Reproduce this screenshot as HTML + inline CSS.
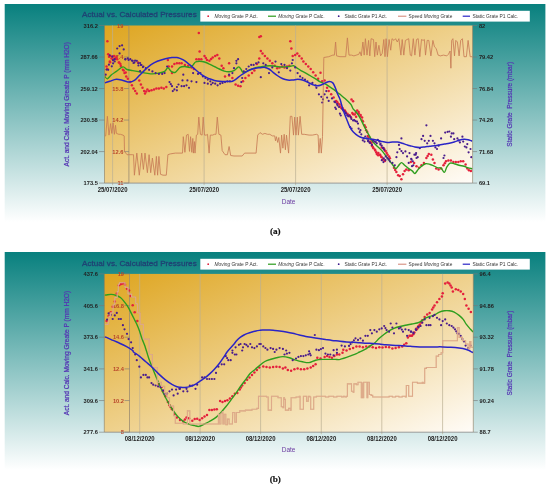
<!DOCTYPE html>
<html><head><meta charset="utf-8"><style>
html,body{margin:0;padding:0;background:#fff;width:550px;height:489px;overflow:hidden}
svg{display:block}
text{font-family:"Liberation Sans",sans-serif}
.title{font-size:7.6px;fill:#1f4274;stroke:#1f4274;stroke-width:0.3}
.leg{font-size:5.1px;fill:#363636}
.it{}
.ax{font-size:5.7px;fill:#222;font-weight:bold}
.dt{font-size:6.3px}
.axr{font-size:5.7px;fill:#b8442a;font-weight:bold}
.xt{font-size:6.5px;fill:#6a3aa0}
.yt{font-size:6.5px;fill:#5434b4;stroke:#5434b4;stroke-width:0.22}
.cap{font-family:"Liberation Serif",serif;font-size:9.2px;font-weight:bold;fill:#111;stroke:#111;stroke-width:0.15}
</style></head>
<body><svg width="550" height="489" viewBox="0 0 550 489">
<defs>
<linearGradient id="teal1" x1="0" y1="0" x2="0" y2="1"><stop offset="0" stop-color="#08807e"/><stop offset="1" stop-color="#ffffff"/></linearGradient>
<linearGradient id="teal2" x1="0" y1="0" x2="0" y2="1"><stop offset="0" stop-color="#08807e"/><stop offset="1" stop-color="#ffffff"/></linearGradient>
<linearGradient id="org1" x1="0" y1="0" x2="1" y2="1"><stop offset="0" stop-color="#dea51f"/><stop offset="1" stop-color="#fffcf8"/></linearGradient>
<linearGradient id="org2" x1="0" y1="0" x2="1" y2="1"><stop offset="0" stop-color="#dea51f"/><stop offset="1" stop-color="#fffcf8"/></linearGradient>
<clipPath id="clip1"><rect x="104.5" y="25.5" width="368.1" height="157.6"/></clipPath>
<clipPath id="clip2"><rect x="104.3" y="273.9" width="369" height="158.3"/></clipPath>
</defs>
<rect x="4.7" y="4" width="540.7" height="218" fill="url(#teal1)"/>
<text x="82" y="17.3" class="title" textLength="114.7" lengthAdjust="spacingAndGlyphs">Actual vs. Calculated Pressures</text>
<rect x="200.3" y="10.8" width="329.5" height="10.8" fill="#fff"/>
<circle cx="208.2" cy="16.200000000000003" r="0.9" fill="#e0203a"/>
<text x="214.5" y="18.000000000000004" class="leg it" textLength="43.3" lengthAdjust="spacingAndGlyphs"><tspan font-style="italic">Moving</tspan> Grate P Act.</text>
<line x1="268" x2="276" y1="16.200000000000003" y2="16.200000000000003" stroke="#2a9a1a" stroke-width="1.2"/>
<text x="278.3" y="18.000000000000004" class="leg it" textLength="46.3" lengthAdjust="spacingAndGlyphs"><tspan font-style="italic">Moving</tspan> Grate P Calc.</text>
<circle cx="338.7" cy="16.200000000000003" r="0.9" fill="#3a1a8a"/>
<text x="344.5" y="18.000000000000004" class="leg" textLength="42.5" lengthAdjust="spacingAndGlyphs">Static Grate P1 Act.</text>
<line x1="398" x2="406.4" y1="16.200000000000003" y2="16.200000000000003" stroke="#d08070" stroke-width="1"/>
<text x="408.6" y="18.000000000000004" class="leg" textLength="43.7" lengthAdjust="spacingAndGlyphs">Speed <tspan font-style="italic">Moving</tspan> Grate</text>
<line x1="462.7" x2="470" y1="16.200000000000003" y2="16.200000000000003" stroke="#2a24c6" stroke-width="1.2"/>
<text x="472.5" y="18.000000000000004" class="leg" textLength="45.5" lengthAdjust="spacingAndGlyphs">Static Grate P1 Calc.</text>
<rect x="104.5" y="25.5" width="368.1" height="157.6" fill="url(#org1)"/>
<line x1="112.6" x2="112.6" y1="25.5" y2="185.1" stroke="#bcb094" stroke-width="0.7"/>
<line x1="204.1" x2="204.1" y1="25.5" y2="185.1" stroke="#bcb094" stroke-width="0.7"/>
<line x1="295.6" x2="295.6" y1="25.5" y2="185.1" stroke="#bcb094" stroke-width="0.7"/>
<line x1="387.1" x2="387.1" y1="25.5" y2="185.1" stroke="#bcb094" stroke-width="0.7"/>
<line x1="128.9" x2="128.9" y1="25.5" y2="183.1" stroke="#9c8c70" stroke-width="0.8"/>
<text x="97.8" y="27.5" class="ax" text-anchor="end">316.2</text>
<line x1="99" x2="104.5" y1="25.5" y2="25.5" stroke="#777" stroke-width="0.6"/>
<text x="97.8" y="59.019999999999996" class="ax" text-anchor="end">287.66</text>
<line x1="99" x2="104.5" y1="57.019999999999996" y2="57.019999999999996" stroke="#777" stroke-width="0.6"/>
<text x="97.8" y="90.53999999999999" class="ax" text-anchor="end">259.12</text>
<line x1="99" x2="104.5" y1="88.53999999999999" y2="88.53999999999999" stroke="#777" stroke-width="0.6"/>
<text x="97.8" y="122.05999999999999" class="ax" text-anchor="end">230.58</text>
<line x1="99" x2="104.5" y1="120.05999999999999" y2="120.05999999999999" stroke="#777" stroke-width="0.6"/>
<text x="97.8" y="153.57999999999998" class="ax" text-anchor="end">202.04</text>
<line x1="99" x2="104.5" y1="151.57999999999998" y2="151.57999999999998" stroke="#777" stroke-width="0.6"/>
<text x="97.8" y="185.1" class="ax" text-anchor="end">173.5</text>
<line x1="99" x2="104.5" y1="183.1" y2="183.1" stroke="#777" stroke-width="0.6"/>
<text x="123.4" y="27.5" class="axr" text-anchor="end">19</text>
<line x1="123.9" x2="128.9" y1="25.5" y2="25.5" stroke="#777" stroke-width="0.6"/>
<text x="123.4" y="59.019999999999996" class="axr" text-anchor="end">17.4</text>
<line x1="123.9" x2="128.9" y1="57.019999999999996" y2="57.019999999999996" stroke="#777" stroke-width="0.6"/>
<text x="123.4" y="90.53999999999999" class="axr" text-anchor="end">15.8</text>
<line x1="123.9" x2="128.9" y1="88.53999999999999" y2="88.53999999999999" stroke="#777" stroke-width="0.6"/>
<text x="123.4" y="122.05999999999999" class="axr" text-anchor="end">14.2</text>
<line x1="123.9" x2="128.9" y1="120.05999999999999" y2="120.05999999999999" stroke="#777" stroke-width="0.6"/>
<text x="123.4" y="153.57999999999998" class="axr" text-anchor="end">12.6</text>
<line x1="123.9" x2="128.9" y1="151.57999999999998" y2="151.57999999999998" stroke="#777" stroke-width="0.6"/>
<text x="123.4" y="185.1" class="axr" text-anchor="end">11</text>
<line x1="123.9" x2="128.9" y1="183.1" y2="183.1" stroke="#777" stroke-width="0.6"/>
<text x="478.90000000000003" y="27.5" class="ax">82</text>
<line x1="472.6" x2="477.1" y1="25.5" y2="25.5" stroke="#777" stroke-width="0.6"/>
<text x="478.90000000000003" y="59.019999999999996" class="ax">79.42</text>
<line x1="472.6" x2="477.1" y1="57.019999999999996" y2="57.019999999999996" stroke="#777" stroke-width="0.6"/>
<text x="478.90000000000003" y="90.53999999999999" class="ax">76.84</text>
<line x1="472.6" x2="477.1" y1="88.53999999999999" y2="88.53999999999999" stroke="#777" stroke-width="0.6"/>
<text x="478.90000000000003" y="122.05999999999999" class="ax">74.26</text>
<line x1="472.6" x2="477.1" y1="120.05999999999999" y2="120.05999999999999" stroke="#777" stroke-width="0.6"/>
<text x="478.90000000000003" y="153.57999999999998" class="ax">71.68</text>
<line x1="472.6" x2="477.1" y1="151.57999999999998" y2="151.57999999999998" stroke="#777" stroke-width="0.6"/>
<text x="478.90000000000003" y="185.1" class="ax">69.1</text>
<line x1="472.6" x2="477.1" y1="183.1" y2="183.1" stroke="#777" stroke-width="0.6"/>
<g clip-path="url(#clip1)">
<g fill="#e4203c"><circle cx="107.4" cy="41.2" r="1.25"/><circle cx="108.2" cy="54.3" r="1.25"/><circle cx="109.0" cy="56.7" r="1.25"/><circle cx="109.8" cy="61.6" r="1.25"/><circle cx="106.5" cy="66.5" r="1.25"/><circle cx="107.4" cy="69.0" r="1.25"/><circle cx="111.5" cy="58.4" r="1.25"/><circle cx="113.1" cy="60.0" r="1.25"/><circle cx="115.5" cy="58.4" r="1.25"/><circle cx="117.2" cy="59.2" r="1.25"/><circle cx="118.8" cy="62.4" r="1.25"/><circle cx="120.4" cy="64.1" r="1.25"/><circle cx="122.9" cy="69.8" r="1.25"/><circle cx="124.5" cy="73.1" r="1.25"/><circle cx="126.2" cy="76.4" r="1.25"/><circle cx="127.8" cy="78.8" r="1.25"/><circle cx="130.3" cy="82.1" r="1.25"/><circle cx="131.9" cy="85.3" r="1.25"/><circle cx="133.5" cy="88.6" r="1.25"/><circle cx="135.2" cy="91.1" r="1.25"/><circle cx="136.8" cy="93.5" r="1.25"/><circle cx="139.3" cy="80.4" r="1.25"/><circle cx="140.9" cy="84.5" r="1.25"/><circle cx="142.5" cy="87.8" r="1.25"/><circle cx="144.2" cy="91.1" r="1.25"/><circle cx="145.0" cy="93.5" r="1.25"/><circle cx="146.2" cy="91.5" r="1.25"/><circle cx="147.4" cy="89.4" r="1.25"/><circle cx="149.1" cy="91.1" r="1.25"/><circle cx="151.5" cy="90.3" r="1.25"/><circle cx="154.0" cy="89.4" r="1.25"/><circle cx="156.4" cy="88.6" r="1.25"/><circle cx="158.9" cy="88.6" r="1.25"/><circle cx="161.4" cy="87.8" r="1.25"/><circle cx="163.8" cy="88.6" r="1.25"/><circle cx="166.3" cy="87.0" r="1.25"/><circle cx="167.9" cy="60.0" r="1.25"/><circle cx="168.7" cy="66.5" r="1.25"/><circle cx="172.0" cy="66.5" r="1.25"/><circle cx="174.4" cy="64.1" r="1.25"/><circle cx="176.9" cy="63.3" r="1.25"/><circle cx="179.3" cy="63.3" r="1.25"/><circle cx="172.0" cy="73.1" r="1.25"/><circle cx="198.8" cy="33.0" r="1.25"/><circle cx="199.6" cy="51.5" r="1.25"/><circle cx="181.6" cy="63.3" r="1.25"/><circle cx="184.9" cy="64.9" r="1.25"/><circle cx="188.2" cy="65.7" r="1.25"/><circle cx="191.5" cy="67.4" r="1.25"/><circle cx="193.9" cy="69.0" r="1.25"/><circle cx="196.4" cy="59.2" r="1.25"/><circle cx="198.9" cy="59.2" r="1.25"/><circle cx="201.3" cy="59.2" r="1.25"/><circle cx="204.5" cy="55.9" r="1.25"/><circle cx="205.8" cy="58.0" r="1.25"/><circle cx="207.0" cy="60.0" r="1.25"/><circle cx="209.4" cy="60.8" r="1.25"/><circle cx="211.1" cy="59.1" r="1.25"/><circle cx="212.7" cy="57.5" r="1.25"/><circle cx="215.2" cy="55.9" r="1.25"/><circle cx="217.3" cy="55.1" r="1.25"/><circle cx="219.3" cy="58.4" r="1.25"/><circle cx="221.7" cy="65.7" r="1.25"/><circle cx="223.4" cy="68.2" r="1.25"/><circle cx="229.1" cy="63.3" r="1.25"/><circle cx="225.0" cy="76.4" r="1.25"/><circle cx="229.1" cy="75.5" r="1.25"/><circle cx="232.4" cy="78.0" r="1.25"/><circle cx="235.6" cy="84.5" r="1.25"/><circle cx="238.1" cy="85.8" r="1.25"/><circle cx="240.5" cy="86.2" r="1.25"/><circle cx="243.0" cy="81.3" r="1.25"/><circle cx="245.4" cy="78.0" r="1.25"/><circle cx="248.7" cy="75.5" r="1.25"/><circle cx="252.0" cy="73.1" r="1.25"/><circle cx="254.4" cy="70.6" r="1.25"/><circle cx="256.9" cy="64.1" r="1.25"/><circle cx="259.3" cy="37.1" r="1.25"/><circle cx="259.3" cy="58.4" r="1.25"/><circle cx="260.8" cy="36.3" r="1.25"/><circle cx="260.8" cy="51.0" r="1.25"/><circle cx="262.5" cy="53.4" r="1.25"/><circle cx="264.9" cy="55.9" r="1.25"/><circle cx="267.4" cy="58.4" r="1.25"/><circle cx="269.8" cy="60.8" r="1.25"/><circle cx="272.3" cy="63.3" r="1.25"/><circle cx="274.7" cy="65.7" r="1.25"/><circle cx="277.2" cy="68.2" r="1.25"/><circle cx="279.6" cy="67.4" r="1.25"/><circle cx="282.1" cy="66.5" r="1.25"/><circle cx="284.5" cy="67.4" r="1.25"/><circle cx="287.0" cy="66.5" r="1.25"/><circle cx="289.4" cy="65.7" r="1.25"/><circle cx="290.3" cy="41.2" r="1.25"/><circle cx="291.4" cy="48.5" r="1.25"/><circle cx="292.7" cy="55.9" r="1.25"/><circle cx="295.2" cy="55.1" r="1.25"/><circle cx="297.3" cy="53.4" r="1.25"/><circle cx="299.3" cy="55.9" r="1.25"/><circle cx="301.7" cy="58.4" r="1.25"/><circle cx="303.4" cy="61.6" r="1.25"/><circle cx="305.8" cy="64.1" r="1.25"/><circle cx="308.3" cy="66.5" r="1.25"/><circle cx="310.7" cy="69.0" r="1.25"/><circle cx="313.2" cy="72.3" r="1.25"/><circle cx="315.6" cy="75.5" r="1.25"/><circle cx="318.1" cy="78.8" r="1.25"/><circle cx="320.5" cy="72.8" r="1.25"/><circle cx="322.2" cy="81.3" r="1.25"/><circle cx="324.6" cy="80.4" r="1.25"/><circle cx="327.1" cy="87.8" r="1.25"/><circle cx="328.7" cy="91.1" r="1.25"/><circle cx="331.2" cy="94.3" r="1.25"/><circle cx="333.6" cy="97.6" r="1.25"/><circle cx="336.1" cy="100.9" r="1.25"/><circle cx="338.0" cy="103.5" r="1.25"/><circle cx="340.0" cy="106.5" r="1.25"/><circle cx="342.5" cy="108.1" r="1.25"/><circle cx="344.9" cy="110.5" r="1.25"/><circle cx="347.4" cy="113.8" r="1.25"/><circle cx="349.8" cy="115.5" r="1.25"/><circle cx="352.3" cy="113.0" r="1.25"/><circle cx="354.7" cy="114.6" r="1.25"/><circle cx="355.9" cy="112.5" r="1.25"/><circle cx="357.2" cy="110.5" r="1.25"/><circle cx="358.8" cy="113.8" r="1.25"/><circle cx="360.4" cy="116.3" r="1.25"/><circle cx="362.1" cy="120.4" r="1.25"/><circle cx="364.5" cy="125.3" r="1.25"/><circle cx="366.2" cy="130.2" r="1.25"/><circle cx="367.8" cy="135.9" r="1.25"/><circle cx="370.3" cy="141.6" r="1.25"/><circle cx="371.9" cy="145.7" r="1.25"/><circle cx="373.5" cy="148.2" r="1.25"/><circle cx="375.2" cy="150.6" r="1.25"/><circle cx="376.8" cy="153.9" r="1.25"/><circle cx="378.4" cy="153.1" r="1.25"/><circle cx="380.1" cy="154.7" r="1.25"/><circle cx="381.7" cy="157.2" r="1.25"/><circle cx="383.4" cy="159.6" r="1.25"/><circle cx="381.7" cy="147.4" r="1.25"/><circle cx="384.2" cy="149.0" r="1.25"/><circle cx="385.4" cy="151.1" r="1.25"/><circle cx="386.6" cy="153.1" r="1.25"/><circle cx="389.1" cy="156.4" r="1.25"/><circle cx="394.0" cy="167.8" r="1.25"/><circle cx="395.2" cy="169.9" r="1.25"/><circle cx="396.4" cy="171.9" r="1.25"/><circle cx="398.1" cy="175.2" r="1.25"/><circle cx="399.7" cy="176.0" r="1.25"/><circle cx="401.4" cy="179.3" r="1.25"/><circle cx="403.0" cy="174.3" r="1.25"/><circle cx="404.6" cy="171.1" r="1.25"/><circle cx="406.3" cy="169.4" r="1.25"/><circle cx="408.7" cy="170.3" r="1.25"/><circle cx="351.5" cy="99.6" r="1.25"/><circle cx="410.8" cy="162.1" r="1.25"/><circle cx="414.1" cy="162.9" r="1.25"/><circle cx="416.5" cy="166.2" r="1.25"/><circle cx="419.0" cy="167.8" r="1.25"/><circle cx="421.5" cy="165.3" r="1.25"/><circle cx="423.9" cy="162.9" r="1.25"/><circle cx="426.4" cy="158.0" r="1.25"/><circle cx="427.6" cy="155.9" r="1.25"/><circle cx="428.8" cy="153.9" r="1.25"/><circle cx="431.3" cy="154.7" r="1.25"/><circle cx="432.9" cy="159.6" r="1.25"/><circle cx="434.5" cy="162.9" r="1.25"/><circle cx="436.2" cy="168.6" r="1.25"/><circle cx="438.6" cy="169.4" r="1.25"/><circle cx="441.1" cy="168.6" r="1.25"/><circle cx="443.5" cy="165.3" r="1.25"/><circle cx="444.8" cy="163.3" r="1.25"/><circle cx="446.0" cy="161.3" r="1.25"/><circle cx="448.4" cy="160.4" r="1.25"/><circle cx="450.9" cy="160.4" r="1.25"/><circle cx="453.4" cy="162.1" r="1.25"/><circle cx="455.8" cy="162.1" r="1.25"/><circle cx="458.3" cy="162.1" r="1.25"/><circle cx="460.7" cy="161.3" r="1.25"/><circle cx="463.2" cy="161.3" r="1.25"/><circle cx="465.6" cy="164.5" r="1.25"/><circle cx="467.3" cy="168.6" r="1.25"/><circle cx="468.9" cy="170.3" r="1.25"/><circle cx="470.9" cy="171.1" r="1.25"/><circle cx="110.1" cy="56.1" r="1.25"/><circle cx="112.2" cy="56.5" r="1.25"/><circle cx="114.2" cy="56.1" r="1.25"/><circle cx="116.3" cy="57.3" r="1.25"/><circle cx="110.1" cy="62.2" r="1.25"/><circle cx="119.2" cy="62.6" r="1.25"/><circle cx="120.8" cy="65.9" r="1.25"/><circle cx="123.7" cy="70.4" r="1.25"/><circle cx="125.7" cy="72.5" r="1.25"/><circle cx="138.0" cy="62.6" r="1.25"/><circle cx="337.2" cy="102.1" r="1.25"/><circle cx="339.5" cy="104.6" r="1.25"/><circle cx="341.3" cy="107.9" r="1.25"/><circle cx="343.4" cy="109.7" r="1.25"/><circle cx="345.7" cy="112.0" r="1.25"/><circle cx="348.3" cy="114.9" r="1.25"/><circle cx="351.0" cy="117.5" r="1.25"/><circle cx="353.2" cy="114.3" r="1.25"/><circle cx="356.1" cy="116.7" r="1.25"/><circle cx="358.6" cy="112.0" r="1.25"/><circle cx="360.6" cy="114.9" r="1.25"/><circle cx="362.1" cy="117.6" r="1.25"/><circle cx="363.0" cy="121.5" r="1.25"/><circle cx="365.6" cy="127.3" r="1.25"/><circle cx="367.2" cy="131.9" r="1.25"/><circle cx="369.2" cy="137.3" r="1.25"/><circle cx="371.6" cy="142.7" r="1.25"/><circle cx="372.8" cy="146.9" r="1.25"/><circle cx="375.0" cy="149.7" r="1.25"/><circle cx="376.3" cy="152.3" r="1.25"/><circle cx="378.1" cy="155.3" r="1.25"/><circle cx="380.0" cy="154.9" r="1.25"/><circle cx="381.1" cy="156.4" r="1.25"/><circle cx="383.0" cy="159.3" r="1.25"/><circle cx="384.9" cy="160.9" r="1.25"/><circle cx="383.5" cy="148.5" r="1.25"/><circle cx="385.4" cy="150.9" r="1.25"/><circle cx="387.6" cy="154.7" r="1.25"/><circle cx="389.9" cy="158.2" r="1.25"/><circle cx="353.1" cy="101.3" r="1.25"/></g>
<path d="M104.9,76.4C105.3,76.8 106.3,79.1 107.4,78.8C108.5,78.5 110.0,75.9 111.5,74.7C113.0,73.5 114.5,72.7 116.4,71.4C118.3,70.1 121.1,67.2 122.9,66.9C124.7,66.6 125.4,68.9 127.0,69.5C128.6,70.1 130.6,70.2 132.7,70.6C134.8,71.0 137.1,71.4 139.3,71.8C141.5,72.2 143.6,72.8 145.8,73.1C148.0,73.4 150.2,73.9 152.4,73.9C154.6,73.9 156.9,73.5 158.9,73.1C160.9,72.7 163.1,72.3 164.6,71.4C166.1,70.5 166.8,67.8 167.9,67.8C169.0,67.8 170.0,70.7 171.2,71.4C172.4,72.2 173.8,73.0 175.3,72.3C176.8,71.6 178.4,68.4 180.0,67.4C181.6,66.4 183.3,66.5 184.9,66.5C186.5,66.5 188.4,67.7 189.8,67.4C191.2,67.1 192.2,65.8 193.1,64.9C194.0,64.0 194.4,62.6 195.5,62.0C196.6,61.4 198.1,61.3 199.6,61.3C201.1,61.3 202.9,61.5 204.5,62.0C206.1,62.5 207.8,63.3 209.4,64.1C211.1,64.8 212.8,65.7 214.4,66.5C216.1,67.3 217.7,68.2 219.3,69.0C220.9,69.8 222.6,70.6 224.2,71.1C225.8,71.6 227.5,71.9 229.1,71.8C230.7,71.7 232.4,71.4 234.0,70.6C235.6,69.8 237.4,67.0 238.6,66.9C239.8,66.8 240.6,68.9 241.3,69.8C242.0,70.7 242.0,72.1 243.0,72.3C244.0,72.5 245.6,71.6 247.1,71.1C248.6,70.5 250.4,69.6 252.0,69.0C253.6,68.4 255.6,67.8 256.9,67.4C258.2,67.1 258.7,67.1 260.0,66.9C261.3,66.7 263.3,66.4 264.9,66.2C266.5,66.0 268.2,65.7 269.8,65.7C271.4,65.7 273.1,66.0 274.7,66.2C276.3,66.4 278.0,66.8 279.6,66.9C281.2,67.0 282.9,67.0 284.5,66.9C286.1,66.8 287.9,66.7 289.4,66.5C290.9,66.3 292.3,65.5 293.5,65.7C294.7,65.9 295.6,67.0 296.8,67.8C298.0,68.6 299.4,69.7 300.9,70.6C302.4,71.5 304.2,72.2 305.8,73.1C307.4,74.0 309.1,75.0 310.7,76.0C312.3,77.0 314.1,77.9 315.6,78.8C317.1,79.7 318.2,80.8 319.7,81.6C321.2,82.4 323.1,82.9 324.6,83.7C326.1,84.5 327.2,85.2 328.7,86.2C330.2,87.2 332.1,88.3 333.6,89.4C335.1,90.5 336.6,91.9 337.7,92.7C338.8,93.5 338.8,93.3 340.0,94.3C341.2,95.3 343.2,96.9 345.0,98.5C346.8,100.1 349.2,102.3 350.6,104.0C352.0,105.7 352.1,107.5 353.1,108.9C354.1,110.3 355.3,110.8 356.4,112.2C357.5,113.6 358.5,115.2 359.6,117.1C360.7,119.0 361.8,121.4 362.9,123.6C364.0,125.8 365.1,128.1 366.2,130.2C367.3,132.2 368.3,134.0 369.4,135.9C370.5,137.8 371.3,139.8 372.7,141.6C374.1,143.4 376.0,144.9 377.6,146.5C379.2,148.1 380.9,149.5 382.5,151.4C384.1,153.3 385.8,155.8 387.4,158.0C389.0,160.2 391.0,162.7 392.4,164.5C393.8,166.3 394.7,168.3 395.6,168.6C396.6,168.9 397.1,167.2 398.1,166.2C399.1,165.2 400.3,162.8 401.4,162.6C402.5,162.4 403.4,164.3 404.6,165.3C405.8,166.3 407.4,167.6 408.7,168.6C410.0,169.6 411.5,170.3 412.5,171.1C413.5,171.9 413.9,173.8 414.9,173.5C415.8,173.2 417.1,170.6 418.2,169.4C419.3,168.2 420.3,167.1 421.5,166.2C422.7,165.2 424.1,164.0 425.5,163.7C426.9,163.4 428.2,163.8 429.6,164.2C431.0,164.5 432.3,165.2 433.7,165.8C435.1,166.4 436.6,167.4 437.8,167.8C439.0,168.2 440.0,167.3 441.1,168.1C442.2,168.9 443.4,172.6 444.4,172.4C445.3,172.2 445.9,168.5 446.8,167.0C447.8,165.5 448.9,163.8 450.1,163.2C451.3,162.6 452.7,163.3 454.2,163.7C455.7,164.0 457.5,164.9 459.1,165.3C460.7,165.7 462.5,165.8 464.0,166.2C465.5,166.6 466.7,167.4 468.1,167.8C469.5,168.2 471.7,168.6 472.4,168.8" fill="none" stroke="#2e9e1e" stroke-width="1.4" stroke-linejoin="round"/>
<g fill="#4a1c8c"><circle cx="117.2" cy="48.5" r="1.1"/><circle cx="119.6" cy="46.1" r="1.1"/><circle cx="122.1" cy="45.3" r="1.1"/><circle cx="123.7" cy="49.4" r="1.1"/><circle cx="112.3" cy="56.7" r="1.1"/><circle cx="114.7" cy="59.2" r="1.1"/><circle cx="113.1" cy="63.3" r="1.1"/><circle cx="108.2" cy="69.8" r="1.1"/><circle cx="105.7" cy="74.7" r="1.1"/><circle cx="119.6" cy="53.4" r="1.1"/><circle cx="125.4" cy="59.2" r="1.1"/><circle cx="127.8" cy="58.4" r="1.1"/><circle cx="130.3" cy="59.2" r="1.1"/><circle cx="132.7" cy="60.8" r="1.1"/><circle cx="134.4" cy="62.4" r="1.1"/><circle cx="136.8" cy="60.8" r="1.1"/><circle cx="138.4" cy="63.3" r="1.1"/><circle cx="140.9" cy="64.9" r="1.1"/><circle cx="143.4" cy="66.5" r="1.1"/><circle cx="145.8" cy="68.2" r="1.1"/><circle cx="149.1" cy="69.8" r="1.1"/><circle cx="152.4" cy="71.4" r="1.1"/><circle cx="155.6" cy="73.1" r="1.1"/><circle cx="158.9" cy="73.9" r="1.1"/><circle cx="162.2" cy="73.9" r="1.1"/><circle cx="164.6" cy="73.1" r="1.1"/><circle cx="167.1" cy="66.5" r="1.1"/><circle cx="169.5" cy="82.1" r="1.1"/><circle cx="170.8" cy="84.2" r="1.1"/><circle cx="172.0" cy="86.2" r="1.1"/><circle cx="174.4" cy="89.4" r="1.1"/><circle cx="176.9" cy="87.0" r="1.1"/><circle cx="178.5" cy="84.5" r="1.1"/><circle cx="172.8" cy="91.1" r="1.1"/><circle cx="176.9" cy="90.3" r="1.1"/><circle cx="182.5" cy="80.4" r="1.1"/><circle cx="184.1" cy="86.2" r="1.1"/><circle cx="186.5" cy="85.3" r="1.1"/><circle cx="189.0" cy="87.8" r="1.1"/><circle cx="191.5" cy="81.3" r="1.1"/><circle cx="183.3" cy="74.7" r="1.1"/><circle cx="187.4" cy="80.4" r="1.1"/><circle cx="181.6" cy="86.2" r="1.1"/><circle cx="193.1" cy="73.1" r="1.1"/><circle cx="196.4" cy="82.1" r="1.1"/><circle cx="198.0" cy="73.9" r="1.1"/><circle cx="200.4" cy="73.1" r="1.1"/><circle cx="202.9" cy="76.4" r="1.1"/><circle cx="205.4" cy="78.0" r="1.1"/><circle cx="207.8" cy="79.6" r="1.1"/><circle cx="210.3" cy="81.3" r="1.1"/><circle cx="212.7" cy="82.9" r="1.1"/><circle cx="215.2" cy="83.7" r="1.1"/><circle cx="217.6" cy="85.3" r="1.1"/><circle cx="220.1" cy="83.7" r="1.1"/><circle cx="222.5" cy="82.9" r="1.1"/><circle cx="225.0" cy="82.1" r="1.1"/><circle cx="227.4" cy="81.3" r="1.1"/><circle cx="229.9" cy="81.3" r="1.1"/><circle cx="204.5" cy="82.9" r="1.1"/><circle cx="207.8" cy="83.7" r="1.1"/><circle cx="211.1" cy="84.5" r="1.1"/><circle cx="229.1" cy="74.7" r="1.1"/><circle cx="232.4" cy="73.1" r="1.1"/><circle cx="234.0" cy="68.2" r="1.1"/><circle cx="236.4" cy="60.8" r="1.1"/><circle cx="238.1" cy="59.2" r="1.1"/><circle cx="236.4" cy="63.3" r="1.1"/><circle cx="242.2" cy="78.0" r="1.1"/><circle cx="243.8" cy="71.4" r="1.1"/><circle cx="246.3" cy="69.0" r="1.1"/><circle cx="248.7" cy="66.5" r="1.1"/><circle cx="251.2" cy="64.9" r="1.1"/><circle cx="253.6" cy="64.9" r="1.1"/><circle cx="256.1" cy="63.3" r="1.1"/><circle cx="258.5" cy="62.4" r="1.1"/><circle cx="241.3" cy="82.1" r="1.1"/><circle cx="260.8" cy="77.2" r="1.1"/><circle cx="263.3" cy="63.3" r="1.1"/><circle cx="265.7" cy="64.9" r="1.1"/><circle cx="269.0" cy="73.1" r="1.1"/><circle cx="272.3" cy="67.4" r="1.1"/><circle cx="275.5" cy="61.6" r="1.1"/><circle cx="278.8" cy="72.3" r="1.1"/><circle cx="281.3" cy="64.1" r="1.1"/><circle cx="284.5" cy="64.9" r="1.1"/><circle cx="287.0" cy="68.2" r="1.1"/><circle cx="290.3" cy="70.6" r="1.1"/><circle cx="291.9" cy="63.3" r="1.1"/><circle cx="292.7" cy="60.0" r="1.1"/><circle cx="295.2" cy="67.4" r="1.1"/><circle cx="297.6" cy="73.1" r="1.1"/><circle cx="300.1" cy="76.4" r="1.1"/><circle cx="302.5" cy="78.0" r="1.1"/><circle cx="305.0" cy="79.6" r="1.1"/><circle cx="307.4" cy="81.3" r="1.1"/><circle cx="309.1" cy="85.3" r="1.1"/><circle cx="312.4" cy="82.9" r="1.1"/><circle cx="315.6" cy="85.3" r="1.1"/><circle cx="316.4" cy="87.8" r="1.1"/><circle cx="318.9" cy="94.3" r="1.1"/><circle cx="321.3" cy="96.8" r="1.1"/><circle cx="323.0" cy="99.3" r="1.1"/><circle cx="324.6" cy="94.3" r="1.1"/><circle cx="326.3" cy="91.1" r="1.1"/><circle cx="327.1" cy="97.6" r="1.1"/><circle cx="328.7" cy="100.9" r="1.1"/><circle cx="332.0" cy="98.4" r="1.1"/><circle cx="334.4" cy="101.7" r="1.1"/><circle cx="322.2" cy="102.5" r="1.1"/><circle cx="340.8" cy="115.5" r="1.1"/><circle cx="343.3" cy="110.5" r="1.1"/><circle cx="345.7" cy="113.0" r="1.1"/><circle cx="348.2" cy="116.3" r="1.1"/><circle cx="350.6" cy="117.1" r="1.1"/><circle cx="353.1" cy="120.4" r="1.1"/><circle cx="355.5" cy="121.2" r="1.1"/><circle cx="358.0" cy="123.6" r="1.1"/><circle cx="351.5" cy="128.5" r="1.1"/><circle cx="360.4" cy="130.2" r="1.1"/><circle cx="361.3" cy="134.3" r="1.1"/><circle cx="364.5" cy="141.6" r="1.1"/><circle cx="367.0" cy="138.4" r="1.1"/><circle cx="368.2" cy="140.4" r="1.1"/><circle cx="369.4" cy="142.4" r="1.1"/><circle cx="371.9" cy="144.9" r="1.1"/><circle cx="374.4" cy="141.6" r="1.1"/><circle cx="376.8" cy="143.3" r="1.1"/><circle cx="379.3" cy="141.6" r="1.1"/><circle cx="380.5" cy="143.6" r="1.1"/><circle cx="381.7" cy="145.7" r="1.1"/><circle cx="382.9" cy="147.8" r="1.1"/><circle cx="384.2" cy="149.8" r="1.1"/><circle cx="383.4" cy="162.1" r="1.1"/><circle cx="385.4" cy="160.1" r="1.1"/><circle cx="387.4" cy="158.0" r="1.1"/><circle cx="389.9" cy="161.3" r="1.1"/><circle cx="392.4" cy="162.9" r="1.1"/><circle cx="394.8" cy="165.3" r="1.1"/><circle cx="401.4" cy="138.4" r="1.1"/><circle cx="398.9" cy="144.9" r="1.1"/><circle cx="397.3" cy="152.3" r="1.1"/><circle cx="396.4" cy="157.2" r="1.1"/><circle cx="399.7" cy="149.0" r="1.1"/><circle cx="401.4" cy="151.1" r="1.1"/><circle cx="403.0" cy="153.1" r="1.1"/><circle cx="405.4" cy="151.4" r="1.1"/><circle cx="407.1" cy="156.4" r="1.1"/><circle cx="409.5" cy="153.1" r="1.1"/><circle cx="411.2" cy="158.8" r="1.1"/><circle cx="412.8" cy="161.3" r="1.1"/><circle cx="414.4" cy="154.7" r="1.1"/><circle cx="416.1" cy="153.1" r="1.1"/><circle cx="417.7" cy="157.2" r="1.1"/><circle cx="412.0" cy="166.2" r="1.1"/><circle cx="408.7" cy="162.9" r="1.1"/><circle cx="426.4" cy="125.3" r="1.1"/><circle cx="423.1" cy="135.9" r="1.1"/><circle cx="421.5" cy="139.2" r="1.1"/><circle cx="424.7" cy="140.8" r="1.1"/><circle cx="427.2" cy="143.3" r="1.1"/><circle cx="428.8" cy="140.8" r="1.1"/><circle cx="430.5" cy="135.9" r="1.1"/><circle cx="432.9" cy="140.8" r="1.1"/><circle cx="434.5" cy="143.3" r="1.1"/><circle cx="435.4" cy="147.4" r="1.1"/><circle cx="437.0" cy="149.0" r="1.1"/><circle cx="438.6" cy="145.7" r="1.1"/><circle cx="441.1" cy="138.4" r="1.1"/><circle cx="445.2" cy="132.6" r="1.1"/><circle cx="447.6" cy="131.8" r="1.1"/><circle cx="449.3" cy="131.5" r="1.1"/><circle cx="451.7" cy="133.4" r="1.1"/><circle cx="453.4" cy="133.4" r="1.1"/><circle cx="450.9" cy="136.7" r="1.1"/><circle cx="454.2" cy="139.2" r="1.1"/><circle cx="457.4" cy="138.4" r="1.1"/><circle cx="458.6" cy="140.4" r="1.1"/><circle cx="459.9" cy="142.4" r="1.1"/><circle cx="462.4" cy="136.7" r="1.1"/><circle cx="463.2" cy="141.6" r="1.1"/><circle cx="464.8" cy="146.5" r="1.1"/><circle cx="466.4" cy="147.4" r="1.1"/><circle cx="467.3" cy="144.1" r="1.1"/><circle cx="468.6" cy="152.3" r="1.1"/><circle cx="470.5" cy="149.0" r="1.1"/><circle cx="471.3" cy="157.2" r="1.1"/><circle cx="444.4" cy="155.5" r="1.1"/><circle cx="443.5" cy="158.0" r="1.1"/><circle cx="415.7" cy="154.7" r="1.1"/><circle cx="416.5" cy="158.0" r="1.1"/><circle cx="411.6" cy="159.6" r="1.1"/><circle cx="413.3" cy="165.3" r="1.1"/><circle cx="419.8" cy="148.2" r="1.1"/><circle cx="337.0" cy="104.0" r="1.1"/><circle cx="339.0" cy="107.0" r="1.1"/><circle cx="336.0" cy="109.0" r="1.1"/><circle cx="109.7" cy="55.3" r="1.1"/><circle cx="113.0" cy="60.2" r="1.1"/><circle cx="114.7" cy="61.4" r="1.1"/><circle cx="108.9" cy="64.7" r="1.1"/><circle cx="111.8" cy="66.3" r="1.1"/><circle cx="106.5" cy="69.6" r="1.1"/><circle cx="125.3" cy="59.4" r="1.1"/><circle cx="128.6" cy="60.0" r="1.1"/><circle cx="131.9" cy="60.6" r="1.1"/><circle cx="133.5" cy="63.0" r="1.1"/><circle cx="135.1" cy="60.6" r="1.1"/><circle cx="138.4" cy="65.5" r="1.1"/><circle cx="140.1" cy="63.0" r="1.1"/><circle cx="141.5" cy="65.0" r="1.1"/><circle cx="142.9" cy="67.1" r="1.1"/><circle cx="140.1" cy="71.2" r="1.1"/><circle cx="339.9" cy="113.7" r="1.1"/><circle cx="342.2" cy="109.0" r="1.1"/><circle cx="344.5" cy="111.3" r="1.1"/><circle cx="345.9" cy="113.3" r="1.1"/><circle cx="347.2" cy="115.2" r="1.1"/><circle cx="349.3" cy="115.7" r="1.1"/><circle cx="351.4" cy="119.0" r="1.1"/><circle cx="354.3" cy="120.2" r="1.1"/><circle cx="357.0" cy="121.7" r="1.1"/><circle cx="350.1" cy="127.1" r="1.1"/><circle cx="358.6" cy="128.6" r="1.1"/><circle cx="359.7" cy="132.2" r="1.1"/><circle cx="362.8" cy="140.3" r="1.1"/><circle cx="364.0" cy="138.4" r="1.1"/><circle cx="365.3" cy="136.5" r="1.1"/><circle cx="368.0" cy="141.2" r="1.1"/><circle cx="370.2" cy="143.2" r="1.1"/><circle cx="373.1" cy="140.5" r="1.1"/><circle cx="375.8" cy="142.1" r="1.1"/><circle cx="377.8" cy="139.9" r="1.1"/><circle cx="380.3" cy="144.6" r="1.1"/><circle cx="383.4" cy="147.8" r="1.1"/><circle cx="381.8" cy="160.2" r="1.1"/><circle cx="383.8" cy="158.3" r="1.1"/><circle cx="385.8" cy="156.4" r="1.1"/><circle cx="388.7" cy="159.4" r="1.1"/><circle cx="335.2" cy="102.3" r="1.1"/><circle cx="337.6" cy="105.5" r="1.1"/><circle cx="335.2" cy="107.6" r="1.1"/></g>
<polyline points="104.9,136.0 105.7,135.9 107.4,116.3 109.0,135.1 110.6,123.6 111.8,133.4 113.1,122.8 114.4,134.3 115.5,125.3 116.4,133.4 118.8,134.3 120.4,134.3 122.9,135.1 124.2,135.9 124.5,151.4 127.0,154.7 132.7,154.7 133.5,154.7 134.4,175.2 136.8,153.1 139.3,175.2 141.7,153.1 143.4,169.4 145.0,153.1 147.4,172.7 149.1,154.7 150.7,172.7 152.4,158.0 154.8,175.2 156.4,156.4 157.6,175.2 158.9,156.4 160.5,174.3 163.0,175.2 166.3,175.2 167.9,154.7 170.3,153.9 175.3,153.1 180.0,153.1 182.5,153.1 183.3,136.7 184.9,152.3 186.5,135.1 188.2,134.3 189.5,151.4 190.6,136.7 191.8,152.3 192.8,138.4 193.4,153.1 194.4,141.6 195.0,153.1 196.4,135.1 197.7,134.3 198.8,117.1 200.4,134.3 202.1,135.1 203.2,117.1 204.5,135.1 206.2,135.1 207.5,134.3 209.1,153.1 210.3,135.1 212.7,135.1 214.4,134.3 216.0,134.3 217.3,117.1 218.9,134.3 220.9,135.1 222.2,150.6 225.0,154.7 227.4,154.7 229.1,146.5 230.7,155.5 234.0,156.0 242.2,156.0 244.6,153.1 256.1,153.1 257.7,135.1 260.0,132.6 262.5,134.3 264.9,133.4 267.4,134.3 269.8,134.3 272.3,135.9 274.7,135.9 275.5,140.8 276.4,136.7 277.7,142.4 278.8,137.5 280.5,153.1 281.6,135.1 282.9,148.2 284.2,134.3 285.4,149.8 286.5,135.1 288.6,153.1 290.3,116.3 291.9,116.3 293.5,135.1 294.7,117.1 296.0,135.1 297.3,117.1 298.4,135.1 300.1,116.3 301.7,134.3 304.2,134.3 309.1,135.1 312.4,135.1 316.4,134.3 318.1,135.1 318.9,153.1 320.2,138.4 321.3,153.1 322.5,136.7 323.8,58.4 323.8,57.5 328.7,56.7 332.8,55.1 334.4,55.1 335.6,42.0 336.6,55.9 340.0,56.7 345.7,56.7 347.4,37.9 349.0,55.1 351.5,55.1 353.9,55.9 356.4,55.1 358.8,54.3 360.0,51.8 361.3,55.9 362.9,42.0 364.2,55.1 365.4,38.7 367.0,55.1 368.6,40.4 369.8,55.9 371.1,38.7 373.5,39.5 374.7,56.7 376.0,42.0 377.3,55.1 378.9,45.3 380.6,55.9 382.2,53.4 383.8,39.5 385.0,56.7 386.1,38.7 387.4,56.7 389.1,39.5 390.7,50.2 392.0,38.7 394.0,40.4 395.6,38.7 397.3,42.0 398.9,38.7 400.9,55.1 402.2,39.5 403.8,55.1 405.4,40.4 407.1,39.5 408.7,38.7 410.3,55.1 411.6,55.9 413.3,38.7 414.9,55.1 416.5,39.5 418.2,38.7 419.8,56.7 421.5,39.5 423.1,40.4 424.4,39.5 425.5,55.1 427.2,40.4 428.8,40.4 430.9,55.9 432.9,40.4 434.5,46.9 436.2,48.5 438.1,55.1 440.3,55.9 443.5,55.1 446.8,55.9 448.4,54.3 450.1,51.0 450.9,68.2 451.7,40.4 452.9,38.7 454.5,55.9 455.8,40.4 457.4,42.0 459.1,55.9 460.7,40.4 462.4,38.7 464.0,56.7 466.4,56.7 468.1,40.4 470.2,56.7 472.4,56.7" fill="none" stroke="#c87c56" stroke-width="0.85" stroke-linejoin="round"/>
<path d="M104.9,82.9C105.7,82.6 107.9,81.9 109.8,81.3C111.7,80.7 114.2,79.4 116.4,79.3C118.6,79.2 120.7,79.9 122.9,80.4C125.1,80.9 127.5,82.1 129.4,82.1C131.3,82.1 132.8,81.5 134.4,80.4C136.1,79.3 137.7,77.1 139.3,75.5C140.9,73.9 142.3,72.4 144.2,70.6C146.1,68.8 148.5,66.5 150.7,64.9C152.9,63.4 154.9,62.3 157.3,61.3C159.8,60.3 163.0,59.3 165.4,58.7C167.8,58.1 170.1,57.7 172.0,57.5C173.9,57.3 175.6,57.4 176.9,57.5C178.2,57.6 178.7,57.9 180.0,58.4C181.3,58.9 183.3,59.7 184.9,60.8C186.5,61.9 188.2,63.5 189.8,64.9C191.4,66.3 193.1,67.6 194.7,69.0C196.3,70.4 198.0,71.9 199.6,73.1C201.2,74.3 202.9,75.5 204.5,76.4C206.1,77.4 207.8,78.1 209.4,78.8C211.1,79.5 212.8,80.0 214.4,80.4C216.1,80.8 217.7,81.1 219.3,81.3C220.9,81.5 222.6,81.5 224.2,81.6C225.8,81.6 227.7,81.6 229.1,81.6C230.5,81.5 231.2,81.8 232.4,81.3C233.6,80.8 235.1,79.8 236.4,78.8C237.8,77.8 239.0,76.6 240.5,75.5C242.0,74.4 243.8,73.2 245.4,72.3C247.0,71.3 248.7,70.5 250.3,69.8C252.0,69.1 253.7,68.5 255.3,68.2C256.9,67.9 258.4,67.9 260.0,67.8C261.6,67.7 263.4,67.2 264.9,67.4C266.4,67.6 267.6,68.2 269.0,69.0C270.4,69.8 271.6,71.1 273.1,72.3C274.6,73.5 276.4,74.9 278.0,76.0C279.6,77.1 281.3,78.1 282.9,78.8C284.5,79.5 286.2,79.9 287.8,80.1C289.4,80.3 291.1,80.1 292.7,80.0C294.3,79.9 296.0,79.3 297.6,79.3C299.2,79.3 300.9,79.5 302.5,80.0C304.1,80.5 305.8,81.3 307.4,82.1C309.0,82.8 310.9,83.9 312.4,84.5C313.9,85.1 315.0,85.7 316.4,85.8C317.8,85.9 319.0,85.8 320.5,85.3C322.0,84.8 323.9,83.5 325.4,82.9C326.9,82.3 328.3,81.6 329.5,81.6C330.7,81.6 331.8,81.9 332.8,82.9C333.8,83.9 334.5,85.9 335.3,87.8C336.1,89.7 336.9,92.4 337.7,94.3C338.5,96.2 339.1,96.6 340.0,99.3C340.9,102.0 342.2,107.3 343.3,110.5C344.4,113.7 345.4,116.0 346.5,118.7C347.6,121.4 348.7,124.7 349.8,126.9C350.9,129.1 351.7,130.3 353.1,131.8C354.5,133.3 356.4,134.9 358.0,135.9C359.6,136.9 361.3,137.5 362.9,138.0C364.5,138.5 366.2,138.5 367.8,138.7C369.4,138.9 371.1,138.9 372.7,139.2C374.3,139.5 376.0,139.9 377.6,140.3C379.2,140.7 380.9,141.2 382.5,141.6C384.1,141.9 385.8,142.3 387.4,142.4C389.0,142.5 390.8,142.1 392.4,142.0C394.0,141.9 395.7,141.8 397.3,142.0C398.9,142.2 400.6,142.8 402.2,143.3C403.8,143.8 405.8,144.5 407.1,144.9C408.4,145.3 408.7,145.4 410.0,145.7C411.3,146.0 413.3,146.6 414.9,146.9C416.5,147.2 418.2,147.4 419.8,147.4C421.4,147.4 423.1,147.1 424.7,146.9C426.3,146.7 428.0,146.4 429.6,146.2C431.2,146.0 432.9,145.9 434.5,145.7C436.1,145.5 437.8,145.2 439.4,144.9C441.0,144.6 442.8,144.4 444.4,144.1C446.0,143.8 447.7,143.7 449.3,143.3C450.9,143.0 452.6,142.5 454.2,142.0C455.8,141.5 457.5,140.8 459.1,140.3C460.7,139.8 462.5,139.3 464.0,139.2C465.5,139.1 466.9,139.4 468.1,139.7C469.3,140.0 470.6,140.6 471.3,140.8C472.0,141.1 472.2,141.1 472.4,141.2" fill="none" stroke="#2a24c6" stroke-width="1.5" stroke-linejoin="round"/>
</g>
<line x1="104.5" x2="104.5" y1="25.5" y2="183.1" stroke="#8a7a60" stroke-width="0.6"/>
<line x1="472.6" x2="472.6" y1="25.5" y2="183.1" stroke="#8a7a60" stroke-width="0.6"/>
<line x1="104.5" x2="472.6" y1="183.1" y2="183.1" stroke="#888" stroke-width="0.8"/>
<text x="112.6" y="192.4" class="ax dt" text-anchor="middle" textLength="29.8" lengthAdjust="spacingAndGlyphs">25/07/2020</text>
<text x="204.1" y="192.4" class="ax dt" text-anchor="middle" textLength="29.8" lengthAdjust="spacingAndGlyphs">25/07/2020</text>
<text x="295.6" y="192.4" class="ax dt" text-anchor="middle" textLength="29.8" lengthAdjust="spacingAndGlyphs">25/07/2020</text>
<text x="387.1" y="192.4" class="ax dt" text-anchor="middle" textLength="29.8" lengthAdjust="spacingAndGlyphs">25/07/2020</text>
<text x="288.6" y="203.6" class="xt" text-anchor="middle">Date</text>
<text transform="translate(68.7,104.3) rotate(-90)" class="yt" text-anchor="middle" textLength="124.4" lengthAdjust="spacingAndGlyphs">Act. and Calc. Moving Greate P (mm H2O)</text>
<text transform="translate(512,104.3) rotate(-90)" class="yt" text-anchor="middle" textLength="84.7" lengthAdjust="spacingAndGlyphs" style="white-space:pre">Static Grate  Pressure (mbar)</text>
<text x="275.3" y="233.9" class="cap" text-anchor="middle">(a)</text>
<rect x="4.7" y="252" width="540.7" height="218" fill="url(#teal2)"/>
<text x="82" y="265.8" class="title" textLength="114.7" lengthAdjust="spacingAndGlyphs">Actual vs. Calculated Pressures</text>
<rect x="200.3" y="258.8" width="329.5" height="10.8" fill="#fff"/>
<circle cx="208.2" cy="264.2" r="0.9" fill="#e0203a"/>
<text x="214.5" y="266.0" class="leg it" textLength="43.3" lengthAdjust="spacingAndGlyphs"><tspan font-style="italic">Moving</tspan> Grate P Act.</text>
<line x1="268" x2="276" y1="264.2" y2="264.2" stroke="#2a9a1a" stroke-width="1.2"/>
<text x="278.3" y="266.0" class="leg it" textLength="46.3" lengthAdjust="spacingAndGlyphs"><tspan font-style="italic">Moving</tspan> Grate P Calc.</text>
<circle cx="338.7" cy="264.2" r="0.9" fill="#3a1a8a"/>
<text x="344.5" y="266.0" class="leg" textLength="42.5" lengthAdjust="spacingAndGlyphs">Static Grate P1 Act.</text>
<line x1="398" x2="406.4" y1="264.2" y2="264.2" stroke="#d08070" stroke-width="1"/>
<text x="408.6" y="266.0" class="leg" textLength="43.7" lengthAdjust="spacingAndGlyphs">Speed <tspan font-style="italic">Moving</tspan> Grate</text>
<line x1="462.7" x2="470" y1="264.2" y2="264.2" stroke="#2a24c6" stroke-width="1.2"/>
<text x="472.5" y="266.0" class="leg" textLength="45.5" lengthAdjust="spacingAndGlyphs">Static Grate P1 Calc.</text>
<rect x="104.3" y="273.9" width="369.0" height="158.3" fill="url(#org2)"/>
<line x1="139.7" x2="139.7" y1="273.9" y2="434.2" stroke="#bcb094" stroke-width="0.7"/>
<line x1="200.1" x2="200.1" y1="273.9" y2="434.2" stroke="#bcb094" stroke-width="0.7"/>
<line x1="260.6" x2="260.6" y1="273.9" y2="434.2" stroke="#bcb094" stroke-width="0.7"/>
<line x1="321.3" x2="321.3" y1="273.9" y2="434.2" stroke="#bcb094" stroke-width="0.7"/>
<line x1="381.8" x2="381.8" y1="273.9" y2="434.2" stroke="#bcb094" stroke-width="0.7"/>
<line x1="442.6" x2="442.6" y1="273.9" y2="434.2" stroke="#bcb094" stroke-width="0.7"/>
<line x1="129.5" x2="129.5" y1="273.9" y2="432.2" stroke="#9c8c70" stroke-width="0.8"/>
<text x="97.8" y="275.9" class="ax" text-anchor="end">437.6</text>
<line x1="99" x2="104.3" y1="273.9" y2="273.9" stroke="#777" stroke-width="0.6"/>
<text x="97.8" y="307.56" class="ax" text-anchor="end">405.6</text>
<line x1="99" x2="104.3" y1="305.56" y2="305.56" stroke="#777" stroke-width="0.6"/>
<text x="97.8" y="339.21999999999997" class="ax" text-anchor="end">373.6</text>
<line x1="99" x2="104.3" y1="337.21999999999997" y2="337.21999999999997" stroke="#777" stroke-width="0.6"/>
<text x="97.8" y="370.88" class="ax" text-anchor="end">341.6</text>
<line x1="99" x2="104.3" y1="368.88" y2="368.88" stroke="#777" stroke-width="0.6"/>
<text x="97.8" y="402.53999999999996" class="ax" text-anchor="end">309.6</text>
<line x1="99" x2="104.3" y1="400.53999999999996" y2="400.53999999999996" stroke="#777" stroke-width="0.6"/>
<text x="97.8" y="434.2" class="ax" text-anchor="end">277.6</text>
<line x1="99" x2="104.3" y1="432.2" y2="432.2" stroke="#777" stroke-width="0.6"/>
<text x="124.0" y="275.9" class="axr" text-anchor="end">19</text>
<line x1="124.5" x2="129.5" y1="273.9" y2="273.9" stroke="#777" stroke-width="0.6"/>
<text x="124.0" y="307.56" class="axr" text-anchor="end">16.8</text>
<line x1="124.5" x2="129.5" y1="305.56" y2="305.56" stroke="#777" stroke-width="0.6"/>
<text x="124.0" y="339.21999999999997" class="axr" text-anchor="end">14.6</text>
<line x1="124.5" x2="129.5" y1="337.21999999999997" y2="337.21999999999997" stroke="#777" stroke-width="0.6"/>
<text x="124.0" y="370.88" class="axr" text-anchor="end">12.4</text>
<line x1="124.5" x2="129.5" y1="368.88" y2="368.88" stroke="#777" stroke-width="0.6"/>
<text x="124.0" y="402.53999999999996" class="axr" text-anchor="end">10.2</text>
<line x1="124.5" x2="129.5" y1="400.53999999999996" y2="400.53999999999996" stroke="#777" stroke-width="0.6"/>
<text x="124.0" y="434.2" class="axr" text-anchor="end">8</text>
<line x1="124.5" x2="129.5" y1="432.2" y2="432.2" stroke="#777" stroke-width="0.6"/>
<text x="479.6" y="275.9" class="ax">96.4</text>
<line x1="473.3" x2="477.8" y1="273.9" y2="273.9" stroke="#777" stroke-width="0.6"/>
<text x="479.6" y="307.56" class="ax">94.86</text>
<line x1="473.3" x2="477.8" y1="305.56" y2="305.56" stroke="#777" stroke-width="0.6"/>
<text x="479.6" y="339.21999999999997" class="ax">93.32</text>
<line x1="473.3" x2="477.8" y1="337.21999999999997" y2="337.21999999999997" stroke="#777" stroke-width="0.6"/>
<text x="479.6" y="370.88" class="ax">91.78</text>
<line x1="473.3" x2="477.8" y1="368.88" y2="368.88" stroke="#777" stroke-width="0.6"/>
<text x="479.6" y="402.53999999999996" class="ax">90.24</text>
<line x1="473.3" x2="477.8" y1="400.53999999999996" y2="400.53999999999996" stroke="#777" stroke-width="0.6"/>
<text x="479.6" y="434.2" class="ax">88.7</text>
<line x1="473.3" x2="477.8" y1="432.2" y2="432.2" stroke="#777" stroke-width="0.6"/>
<g clip-path="url(#clip2)">
<g fill="#e4203c"><circle cx="106.6" cy="321.0" r="1.25"/><circle cx="108.6" cy="315.9" r="1.25"/><circle cx="110.7" cy="312.3" r="1.25"/><circle cx="112.7" cy="306.7" r="1.25"/><circle cx="114.8" cy="301.6" r="1.25"/><circle cx="116.8" cy="293.4" r="1.25"/><circle cx="118.8" cy="285.2" r="1.25"/><circle cx="120.4" cy="284.2" r="1.25"/><circle cx="121.9" cy="283.7" r="1.25"/><circle cx="124.0" cy="283.2" r="1.25"/><circle cx="125.0" cy="284.7" r="1.25"/><circle cx="127.0" cy="288.8" r="1.25"/><circle cx="129.1" cy="290.4" r="1.25"/><circle cx="130.6" cy="296.0" r="1.25"/><circle cx="132.7" cy="305.2" r="1.25"/><circle cx="134.7" cy="312.3" r="1.25"/><circle cx="137.3" cy="321.0" r="1.25"/><circle cx="158.9" cy="383.9" r="1.25"/><circle cx="161.4" cy="387.2" r="1.25"/><circle cx="163.0" cy="391.3" r="1.25"/><circle cx="165.4" cy="396.2" r="1.25"/><circle cx="167.9" cy="401.9" r="1.25"/><circle cx="169.5" cy="405.2" r="1.25"/><circle cx="170.8" cy="407.2" r="1.25"/><circle cx="172.0" cy="409.3" r="1.25"/><circle cx="174.4" cy="414.2" r="1.25"/><circle cx="176.9" cy="417.4" r="1.25"/><circle cx="180.0" cy="419.9" r="1.25"/><circle cx="183.3" cy="421.5" r="1.25"/><circle cx="184.9" cy="419.4" r="1.25"/><circle cx="186.5" cy="417.4" r="1.25"/><circle cx="189.0" cy="418.3" r="1.25"/><circle cx="192.3" cy="420.7" r="1.25"/><circle cx="194.7" cy="419.1" r="1.25"/><circle cx="197.2" cy="418.7" r="1.25"/><circle cx="199.6" cy="419.9" r="1.25"/><circle cx="202.1" cy="418.3" r="1.25"/><circle cx="204.5" cy="416.6" r="1.25"/><circle cx="207.0" cy="415.0" r="1.25"/><circle cx="209.4" cy="410.1" r="1.25"/><circle cx="211.9" cy="410.1" r="1.25"/><circle cx="214.4" cy="409.6" r="1.25"/><circle cx="216.8" cy="409.3" r="1.25"/><circle cx="220.1" cy="401.1" r="1.25"/><circle cx="222.5" cy="401.9" r="1.25"/><circle cx="225.0" cy="401.1" r="1.25"/><circle cx="227.4" cy="400.3" r="1.25"/><circle cx="229.9" cy="398.6" r="1.25"/><circle cx="232.4" cy="396.2" r="1.25"/><circle cx="234.8" cy="393.7" r="1.25"/><circle cx="237.3" cy="392.9" r="1.25"/><circle cx="239.7" cy="389.6" r="1.25"/><circle cx="240.9" cy="387.6" r="1.25"/><circle cx="242.2" cy="385.5" r="1.25"/><circle cx="244.6" cy="383.1" r="1.25"/><circle cx="247.1" cy="379.8" r="1.25"/><circle cx="249.5" cy="377.4" r="1.25"/><circle cx="252.0" cy="374.9" r="1.25"/><circle cx="254.4" cy="372.5" r="1.25"/><circle cx="256.9" cy="370.0" r="1.25"/><circle cx="259.3" cy="367.5" r="1.25"/><circle cx="263.3" cy="366.4" r="1.25"/><circle cx="266.5" cy="367.1" r="1.25"/><circle cx="269.8" cy="367.5" r="1.25"/><circle cx="273.1" cy="367.1" r="1.25"/><circle cx="276.4" cy="366.7" r="1.25"/><circle cx="279.6" cy="367.1" r="1.25"/><circle cx="282.9" cy="368.4" r="1.25"/><circle cx="285.4" cy="367.5" r="1.25"/><circle cx="287.8" cy="370.0" r="1.25"/><circle cx="291.1" cy="370.8" r="1.25"/><circle cx="294.4" cy="369.2" r="1.25"/><circle cx="297.6" cy="368.4" r="1.25"/><circle cx="300.9" cy="369.2" r="1.25"/><circle cx="304.2" cy="369.2" r="1.25"/><circle cx="307.4" cy="368.4" r="1.25"/><circle cx="310.7" cy="367.5" r="1.25"/><circle cx="313.2" cy="365.9" r="1.25"/><circle cx="315.6" cy="364.3" r="1.25"/><circle cx="317.3" cy="357.7" r="1.25"/><circle cx="320.5" cy="358.5" r="1.25"/><circle cx="324.6" cy="356.9" r="1.25"/><circle cx="327.1" cy="356.1" r="1.25"/><circle cx="329.5" cy="356.9" r="1.25"/><circle cx="332.0" cy="357.7" r="1.25"/><circle cx="334.4" cy="356.1" r="1.25"/><circle cx="336.9" cy="354.5" r="1.25"/><circle cx="339.3" cy="354.5" r="1.25"/><circle cx="342.5" cy="352.8" r="1.25"/><circle cx="343.3" cy="349.7" r="1.25"/><circle cx="346.5" cy="350.5" r="1.25"/><circle cx="349.8" cy="348.9" r="1.25"/><circle cx="353.1" cy="348.1" r="1.25"/><circle cx="356.4" cy="346.4" r="1.25"/><circle cx="359.6" cy="346.4" r="1.25"/><circle cx="362.9" cy="347.3" r="1.25"/><circle cx="366.2" cy="346.4" r="1.25"/><circle cx="369.4" cy="346.4" r="1.25"/><circle cx="372.7" cy="347.3" r="1.25"/><circle cx="376.0" cy="348.1" r="1.25"/><circle cx="379.3" cy="347.3" r="1.25"/><circle cx="382.5" cy="347.6" r="1.25"/><circle cx="385.8" cy="346.9" r="1.25"/><circle cx="389.1" cy="347.3" r="1.25"/><circle cx="392.4" cy="348.6" r="1.25"/><circle cx="395.6" cy="348.1" r="1.25"/><circle cx="398.9" cy="347.3" r="1.25"/><circle cx="402.2" cy="346.4" r="1.25"/><circle cx="404.2" cy="344.8" r="1.25"/><circle cx="406.3" cy="343.2" r="1.25"/><circle cx="407.9" cy="337.4" r="1.25"/><circle cx="409.5" cy="335.8" r="1.25"/><circle cx="412.0" cy="335.8" r="1.25"/><circle cx="414.4" cy="332.5" r="1.25"/><circle cx="416.9" cy="329.3" r="1.25"/><circle cx="419.3" cy="326.0" r="1.25"/><circle cx="410.8" cy="335.8" r="1.25"/><circle cx="413.3" cy="334.2" r="1.25"/><circle cx="416.5" cy="328.4" r="1.25"/><circle cx="418.1" cy="326.4" r="1.25"/><circle cx="419.8" cy="324.4" r="1.25"/><circle cx="421.1" cy="322.4" r="1.25"/><circle cx="422.3" cy="320.3" r="1.25"/><circle cx="424.7" cy="317.0" r="1.25"/><circle cx="427.2" cy="314.5" r="1.25"/><circle cx="429.6" cy="312.9" r="1.25"/><circle cx="432.1" cy="309.6" r="1.25"/><circle cx="433.3" cy="307.6" r="1.25"/><circle cx="434.5" cy="305.5" r="1.25"/><circle cx="437.0" cy="302.3" r="1.25"/><circle cx="439.4" cy="299.0" r="1.25"/><circle cx="441.9" cy="296.5" r="1.25"/><circle cx="442.7" cy="293.3" r="1.25"/><circle cx="445.2" cy="283.5" r="1.25"/><circle cx="447.6" cy="282.6" r="1.25"/><circle cx="449.3" cy="283.5" r="1.25"/><circle cx="450.5" cy="285.5" r="1.25"/><circle cx="451.7" cy="287.5" r="1.25"/><circle cx="452.9" cy="291.6" r="1.25"/><circle cx="455.8" cy="289.2" r="1.25"/><circle cx="458.3" cy="290.0" r="1.25"/><circle cx="460.7" cy="291.6" r="1.25"/><circle cx="463.2" cy="294.1" r="1.25"/><circle cx="464.8" cy="299.0" r="1.25"/><circle cx="466.4" cy="305.5" r="1.25"/><circle cx="468.6" cy="308.8" r="1.25"/><circle cx="470.9" cy="312.1" r="1.25"/></g>
<path d="M104.6,295.2C104.8,295.2 105.0,295.1 106.1,295.0C107.2,294.9 109.5,294.3 111.2,294.4C112.9,294.5 114.8,295.0 116.3,295.5C117.8,296.0 119.2,296.6 120.4,297.5C121.6,298.4 122.4,299.4 123.4,300.6C124.4,301.8 125.5,303.3 126.5,304.7C127.5,306.1 128.2,307.3 129.1,308.8C129.9,310.3 130.8,312.2 131.6,313.9C132.4,315.6 133.3,317.3 134.2,319.0C135.0,320.7 135.8,322.0 136.7,324.0C137.6,326.0 138.6,328.4 139.5,331.0C140.4,333.6 141.4,337.1 142.3,339.5C143.2,341.9 143.6,342.4 144.7,345.5C145.8,348.6 147.6,354.9 148.7,358.2C149.8,361.4 150.4,362.8 151.3,365.0C152.2,367.2 152.9,369.0 153.9,371.4C154.9,373.8 156.1,376.9 157.2,379.5C158.3,382.1 159.3,384.5 160.5,387.2C161.7,389.9 163.2,392.9 164.5,395.5C165.8,398.1 167.2,400.7 168.5,403.0C169.8,405.3 171.2,407.5 172.5,409.5C173.8,411.5 175.1,413.3 176.4,414.9C177.7,416.5 179.0,417.8 180.3,419.0C181.6,420.2 182.8,421.1 184.3,422.0C185.8,422.9 187.8,423.7 189.5,424.3C191.2,424.9 193.2,425.2 194.8,425.6C196.4,426.0 197.2,426.7 198.8,426.4C200.4,426.1 202.7,424.8 204.5,424.0C206.3,423.2 207.5,422.6 209.4,421.5C211.3,420.4 214.1,418.9 216.0,417.4C217.9,415.9 219.3,414.3 220.9,412.5C222.5,410.7 224.2,408.8 225.8,406.8C227.4,404.8 229.1,402.5 230.7,400.3C232.3,398.1 234.0,396.0 235.6,393.7C237.2,391.4 238.9,388.7 240.5,386.4C242.1,384.1 243.8,382.0 245.4,379.8C247.0,377.6 248.7,375.1 250.3,373.3C252.0,371.5 253.7,370.6 255.3,369.2C256.9,367.8 258.4,366.4 260.0,365.1C261.6,363.8 263.3,362.4 264.9,361.5C266.5,360.6 267.9,360.2 269.8,359.6C271.7,359.0 274.2,358.2 276.4,357.7C278.6,357.2 280.7,356.6 282.9,356.6C285.1,356.6 287.2,357.1 289.4,357.7C291.6,358.3 293.8,359.5 296.0,360.2C298.2,360.9 300.3,361.4 302.5,361.8C304.7,362.2 306.9,362.9 309.1,362.6C311.3,362.3 313.4,360.7 315.6,360.2C317.8,359.7 320.0,359.5 322.2,359.4C324.4,359.3 326.5,359.4 328.7,359.4C330.9,359.4 333.4,359.4 335.3,359.4C337.2,359.4 337.6,359.9 340.0,359.4C342.4,358.8 347.1,357.1 349.8,356.1C352.5,355.1 354.8,354.3 356.4,353.6C358.0,352.9 358.2,352.6 359.6,352.0C361.0,351.4 362.9,350.6 364.5,349.7C366.1,348.8 367.8,347.5 369.4,346.4C371.0,345.3 372.8,344.5 374.4,343.2C376.0,341.9 377.7,339.8 379.3,338.3C380.9,336.8 382.6,335.4 384.2,334.2C385.8,333.0 387.5,331.9 389.1,330.9C390.7,329.9 392.4,329.1 394.0,328.4C395.6,327.7 397.0,327.3 398.9,326.8C400.8,326.3 403.2,325.7 405.4,325.2C407.6,324.7 410.1,324.4 412.0,324.0C413.9,323.6 415.6,323.4 416.9,323.0C418.2,322.6 418.7,322.6 420.0,321.9C421.3,321.2 423.1,319.5 424.7,318.6C426.3,317.7 428.0,317.1 429.6,316.5C431.2,315.9 432.9,315.6 434.5,314.9C436.1,314.2 437.8,312.8 439.4,312.1C441.0,311.4 442.8,311.0 444.4,310.8C446.0,310.6 447.7,310.6 449.3,310.8C450.9,311.0 452.6,311.3 454.2,312.1C455.8,312.9 457.6,314.2 459.1,315.4C460.6,316.6 462.0,317.9 463.2,319.4C464.4,320.9 465.2,322.8 466.4,324.4C467.6,326.0 469.4,328.0 470.5,329.3C471.6,330.6 472.6,331.6 473.0,332.0" fill="none" stroke="#2e9e1e" stroke-width="1.4" stroke-linejoin="round"/>
<g fill="#4a1c8c"><circle cx="107.1" cy="319.5" r="1.1"/><circle cx="108.6" cy="313.4" r="1.1"/><circle cx="110.7" cy="314.9" r="1.1"/><circle cx="112.7" cy="319.0" r="1.1"/><circle cx="114.8" cy="315.4" r="1.1"/><circle cx="116.8" cy="312.9" r="1.1"/><circle cx="118.8" cy="319.0" r="1.1"/><circle cx="120.9" cy="319.0" r="1.1"/><circle cx="122.9" cy="325.2" r="1.1"/><circle cx="124.5" cy="329.3" r="1.1"/><circle cx="127.0" cy="333.8" r="1.1"/><circle cx="128.6" cy="339.1" r="1.1"/><circle cx="131.1" cy="342.3" r="1.1"/><circle cx="132.7" cy="348.1" r="1.1"/><circle cx="135.2" cy="354.5" r="1.1"/><circle cx="136.8" cy="360.2" r="1.1"/><circle cx="139.3" cy="366.7" r="1.1"/><circle cx="140.9" cy="377.4" r="1.1"/><circle cx="143.4" cy="374.9" r="1.1"/><circle cx="145.8" cy="374.9" r="1.1"/><circle cx="147.4" cy="377.4" r="1.1"/><circle cx="149.1" cy="377.4" r="1.1"/><circle cx="151.5" cy="383.1" r="1.1"/><circle cx="153.2" cy="384.7" r="1.1"/><circle cx="155.6" cy="385.5" r="1.1"/><circle cx="158.1" cy="386.4" r="1.1"/><circle cx="160.5" cy="387.2" r="1.1"/><circle cx="163.0" cy="390.4" r="1.1"/><circle cx="164.6" cy="393.7" r="1.1"/><circle cx="167.1" cy="393.7" r="1.1"/><circle cx="169.5" cy="391.3" r="1.1"/><circle cx="172.0" cy="389.6" r="1.1"/><circle cx="173.6" cy="395.4" r="1.1"/><circle cx="176.1" cy="389.6" r="1.1"/><circle cx="177.7" cy="393.7" r="1.1"/><circle cx="179.3" cy="388.8" r="1.1"/><circle cx="180.0" cy="388.8" r="1.1"/><circle cx="183.3" cy="391.3" r="1.1"/><circle cx="186.5" cy="388.8" r="1.1"/><circle cx="187.4" cy="391.3" r="1.1"/><circle cx="189.8" cy="385.5" r="1.1"/><circle cx="192.3" cy="385.5" r="1.1"/><circle cx="195.5" cy="388.8" r="1.1"/><circle cx="197.2" cy="384.7" r="1.1"/><circle cx="202.1" cy="377.4" r="1.1"/><circle cx="204.5" cy="377.4" r="1.1"/><circle cx="207.0" cy="379.0" r="1.1"/><circle cx="209.4" cy="379.0" r="1.1"/><circle cx="211.9" cy="379.0" r="1.1"/><circle cx="214.4" cy="379.0" r="1.1"/><circle cx="216.0" cy="372.9" r="1.1"/><circle cx="218.4" cy="366.7" r="1.1"/><circle cx="221.7" cy="364.3" r="1.1"/><circle cx="224.2" cy="364.3" r="1.1"/><circle cx="225.8" cy="356.1" r="1.1"/><circle cx="227.1" cy="358.1" r="1.1"/><circle cx="228.3" cy="360.2" r="1.1"/><circle cx="230.7" cy="360.2" r="1.1"/><circle cx="232.4" cy="352.8" r="1.1"/><circle cx="234.8" cy="354.5" r="1.1"/><circle cx="236.4" cy="354.5" r="1.1"/><circle cx="232.4" cy="350.5" r="1.1"/><circle cx="235.6" cy="347.3" r="1.1"/><circle cx="238.9" cy="344.8" r="1.1"/><circle cx="240.5" cy="344.0" r="1.1"/><circle cx="243.0" cy="347.3" r="1.1"/><circle cx="244.6" cy="344.0" r="1.1"/><circle cx="246.3" cy="344.8" r="1.1"/><circle cx="247.9" cy="346.4" r="1.1"/><circle cx="250.3" cy="344.0" r="1.1"/><circle cx="252.0" cy="347.3" r="1.1"/><circle cx="254.4" cy="348.1" r="1.1"/><circle cx="256.9" cy="346.4" r="1.1"/><circle cx="259.3" cy="344.0" r="1.1"/><circle cx="242.2" cy="350.5" r="1.1"/><circle cx="260.8" cy="344.0" r="1.1"/><circle cx="263.3" cy="346.4" r="1.1"/><circle cx="265.4" cy="348.0" r="1.1"/><circle cx="267.4" cy="349.7" r="1.1"/><circle cx="270.6" cy="348.1" r="1.1"/><circle cx="273.1" cy="348.9" r="1.1"/><circle cx="276.4" cy="349.7" r="1.1"/><circle cx="279.6" cy="348.1" r="1.1"/><circle cx="282.9" cy="348.9" r="1.1"/><circle cx="286.2" cy="350.5" r="1.1"/><circle cx="309.1" cy="351.3" r="1.1"/><circle cx="314.8" cy="335.0" r="1.1"/><circle cx="316.4" cy="349.7" r="1.1"/><circle cx="318.9" cy="350.2" r="1.1"/><circle cx="320.9" cy="349.1" r="1.1"/><circle cx="323.0" cy="348.1" r="1.1"/><circle cx="333.6" cy="350.2" r="1.1"/><circle cx="336.9" cy="349.7" r="1.1"/><circle cx="274.7" cy="352.0" r="1.1"/><circle cx="284.5" cy="354.5" r="1.1"/><circle cx="286.9" cy="353.6" r="1.1"/><circle cx="289.4" cy="352.8" r="1.1"/><circle cx="292.7" cy="360.2" r="1.1"/><circle cx="296.0" cy="358.5" r="1.1"/><circle cx="298.4" cy="356.9" r="1.1"/><circle cx="300.9" cy="356.1" r="1.1"/><circle cx="303.4" cy="356.1" r="1.1"/><circle cx="305.8" cy="355.3" r="1.1"/><circle cx="308.3" cy="354.5" r="1.1"/><circle cx="309.9" cy="353.6" r="1.1"/><circle cx="310.7" cy="355.3" r="1.1"/><circle cx="325.4" cy="353.6" r="1.1"/><circle cx="327.9" cy="354.5" r="1.1"/><circle cx="330.3" cy="354.5" r="1.1"/><circle cx="333.6" cy="355.3" r="1.1"/><circle cx="336.9" cy="352.8" r="1.1"/><circle cx="341.6" cy="345.6" r="1.1"/><circle cx="344.9" cy="346.4" r="1.1"/><circle cx="349.0" cy="345.9" r="1.1"/><circle cx="350.6" cy="344.1" r="1.1"/><circle cx="352.3" cy="342.3" r="1.1"/><circle cx="353.9" cy="340.3" r="1.1"/><circle cx="355.5" cy="338.3" r="1.1"/><circle cx="358.0" cy="339.9" r="1.1"/><circle cx="360.4" cy="338.3" r="1.1"/><circle cx="362.9" cy="340.7" r="1.1"/><circle cx="365.4" cy="335.8" r="1.1"/><circle cx="367.8" cy="335.8" r="1.1"/><circle cx="370.3" cy="330.1" r="1.1"/><circle cx="371.9" cy="333.3" r="1.1"/><circle cx="374.4" cy="330.1" r="1.1"/><circle cx="376.8" cy="331.7" r="1.1"/><circle cx="379.3" cy="329.3" r="1.1"/><circle cx="381.7" cy="328.4" r="1.1"/><circle cx="384.2" cy="326.0" r="1.1"/><circle cx="385.4" cy="328.1" r="1.1"/><circle cx="386.6" cy="330.1" r="1.1"/><circle cx="389.1" cy="331.7" r="1.1"/><circle cx="390.7" cy="323.5" r="1.1"/><circle cx="392.4" cy="327.6" r="1.1"/><circle cx="394.0" cy="333.3" r="1.1"/><circle cx="396.4" cy="323.5" r="1.1"/><circle cx="398.9" cy="328.4" r="1.1"/><circle cx="400.5" cy="327.6" r="1.1"/><circle cx="401.8" cy="329.6" r="1.1"/><circle cx="403.0" cy="331.7" r="1.1"/><circle cx="405.4" cy="329.3" r="1.1"/><circle cx="407.1" cy="335.8" r="1.1"/><circle cx="408.7" cy="330.1" r="1.1"/><circle cx="411.2" cy="331.7" r="1.1"/><circle cx="413.6" cy="333.3" r="1.1"/><circle cx="416.1" cy="330.1" r="1.1"/><circle cx="418.5" cy="327.6" r="1.1"/><circle cx="410.8" cy="331.7" r="1.1"/><circle cx="413.3" cy="332.5" r="1.1"/><circle cx="415.7" cy="329.3" r="1.1"/><circle cx="418.2" cy="326.8" r="1.1"/><circle cx="420.6" cy="326.0" r="1.1"/><circle cx="422.3" cy="322.7" r="1.1"/><circle cx="424.7" cy="319.4" r="1.1"/><circle cx="426.4" cy="325.2" r="1.1"/><circle cx="428.8" cy="325.2" r="1.1"/><circle cx="430.5" cy="325.2" r="1.1"/><circle cx="429.6" cy="317.8" r="1.1"/><circle cx="432.9" cy="316.2" r="1.1"/><circle cx="434.5" cy="314.9" r="1.1"/><circle cx="437.0" cy="317.8" r="1.1"/><circle cx="439.4" cy="319.4" r="1.1"/><circle cx="441.1" cy="325.2" r="1.1"/><circle cx="442.7" cy="321.1" r="1.1"/><circle cx="445.2" cy="319.4" r="1.1"/><circle cx="446.8" cy="323.5" r="1.1"/><circle cx="449.3" cy="325.2" r="1.1"/><circle cx="451.7" cy="326.0" r="1.1"/><circle cx="453.4" cy="327.6" r="1.1"/><circle cx="455.0" cy="329.3" r="1.1"/><circle cx="456.2" cy="331.3" r="1.1"/><circle cx="457.4" cy="333.3" r="1.1"/><circle cx="459.1" cy="333.8" r="1.1"/><circle cx="460.7" cy="335.8" r="1.1"/><circle cx="462.4" cy="339.1" r="1.1"/><circle cx="464.0" cy="341.5" r="1.1"/><circle cx="465.6" cy="345.6" r="1.1"/><circle cx="468.1" cy="348.1" r="1.1"/><circle cx="470.5" cy="345.6" r="1.1"/></g>
<polyline points="104.6,324.4 106.5,324.4 108.2,324.4 108.2,321.9 109.0,321.9 109.0,316.2 110.6,316.2 110.6,312.9 113.1,312.9 113.1,304.7 114.8,304.7 114.8,297.5 117.2,297.5 117.2,291.6 118.3,291.6 118.3,284.2 119.4,284.2 119.4,282.7 125.0,282.7 125.0,287.3 128.0,287.3 128.0,294.0 131.6,294.0 131.6,297.0 135.7,297.0 135.7,297.5 135.7,303.7 137.6,303.7 137.6,312.9 140.1,312.9 140.1,324.4 143.4,324.4 143.4,339.1 145.8,339.1 149.1,339.1 149.1,340.7 149.1,354.5 152.4,354.5 152.4,356.0 152.4,367.5 157.3,367.5 157.3,382.3 161.4,382.3 161.4,386.4 163.8,386.4 164.6,386.4 164.6,392.9 167.1,392.9 167.1,395.4 167.1,397.8 169.5,397.8 169.5,406.0 172.0,406.0 173.6,406.0 173.6,415.8 175.3,415.8 175.3,423.2 180.0,423.2 183.3,423.2 183.3,424.0 186.5,424.0 187.4,424.0 187.4,410.9 189.8,410.9 189.8,424.0 196.4,424.0 217.6,424.0 218.4,424.0 218.4,414.2 219.3,414.2 219.3,424.0 220.9,424.0 220.9,413.3 222.2,413.3 222.2,411.7 222.9,411.7 222.9,424.0 224.2,424.0 224.2,414.2 225.8,414.2 225.8,424.8 227.4,424.8 227.4,419.1 229.1,419.1 229.1,424.0 232.4,424.0 232.7,412.5 234.8,412.5 234.8,422.3 236.4,422.3 236.4,412.5 238.9,412.5 239.7,412.5 239.7,410.9 243.8,410.9 245.4,410.9 245.4,410.1 252.0,410.1 252.0,409.3 256.9,409.3 256.9,408.4 258.5,408.4 258.5,396.2 260.0,396.2 263.3,396.2 266.5,396.2 266.5,397.0 268.2,397.0 268.2,410.1 270.6,410.1 271.5,410.1 271.5,396.2 276.4,396.2 278.0,396.2 278.0,397.8 280.5,397.8 281.3,397.8 281.3,406.8 282.9,406.8 282.9,407.6 283.7,407.6 283.7,397.8 284.5,397.8 284.5,399.4 285.4,399.4 285.4,410.1 287.8,410.1 288.6,410.1 288.6,408.4 290.3,408.4 290.3,410.1 291.1,410.1 291.1,397.8 294.4,397.8 296.0,397.8 296.0,397.0 299.3,397.0 299.3,396.2 300.1,396.2 300.1,409.3 302.5,409.3 303.4,409.3 303.4,396.2 305.8,396.2 306.6,396.2 306.6,401.1 308.3,401.1 308.3,396.2 309.9,396.2 309.9,397.0 310.7,397.0 310.7,409.3 313.2,409.3 313.7,409.3 313.7,397.0 316.4,397.0 316.4,396.2 322.2,396.2 325.4,396.2 325.4,397.0 328.7,397.0 328.7,396.2 333.6,396.2 333.6,397.0 336.9,397.0 336.9,396.2 340.0,396.2 341.6,396.2 341.6,397.0 343.3,397.0 343.3,396.2 344.9,396.2 344.9,397.0 346.5,397.0 346.5,396.2 347.4,396.2 347.4,383.9 351.5,383.9 351.5,391.3 353.1,391.3 353.1,392.1 353.9,392.1 353.9,383.9 356.4,383.9 356.4,384.7 358.0,384.7 358.0,382.3 360.4,382.3 361.3,382.3 361.3,397.8 362.1,397.8 362.1,383.1 362.9,383.1 362.9,397.8 363.7,397.8 363.7,382.3 366.2,382.3 367.0,382.3 367.0,397.8 367.8,397.8 367.8,382.3 369.4,382.3 369.4,394.5 371.1,394.5 371.1,395.4 372.7,395.4 372.7,397.0 379.3,397.0 385.8,397.0 389.1,397.0 389.1,396.2 392.4,396.2 392.4,397.0 395.6,397.0 395.6,396.2 398.9,396.2 398.9,397.0 402.2,397.0 402.2,396.2 405.4,396.2 405.4,397.0 406.3,397.0 406.3,385.5 407.9,385.5 408.7,385.5 408.7,396.2 412.5,396.2 412.5,382.3 416.5,382.3 417.4,382.3 417.4,383.1 422.3,383.1 422.3,382.3 423.1,382.3 423.1,383.1 424.7,383.1 424.7,368.4 426.4,368.4 426.4,367.5 436.2,367.5 436.2,356.1 438.6,356.1 438.6,354.5 441.1,354.5 441.1,352.8 442.7,352.8 442.7,352.0 442.7,340.7 456.6,340.7 457.4,340.7 457.4,327.6 459.1,327.6 459.1,337.4 461.5,337.4 462.4,337.4 462.4,340.7 464.0,340.7 465.6,340.7 465.6,344.0 467.3,344.0 468.1,344.0 468.1,348.9 469.7,348.9 469.7,341.5 470.5,341.5 470.9,341.5 470.9,347.3 473.0,347.3" fill="none" stroke="#d49a7a" stroke-width="1.1" stroke-linejoin="miter"/>
<polyline points="104.6,324.4 106.5,324.4 108.2,324.4 108.2,321.9 109.0,321.9 109.0,316.2 110.6,316.2 110.6,312.9 113.1,312.9 113.1,304.7 114.8,304.7 114.8,297.5 117.2,297.5 117.2,291.6 118.3,291.6 118.3,284.2 119.4,284.2 119.4,282.7 125.0,282.7 125.0,287.3 128.0,287.3 128.0,294.0 131.6,294.0 131.6,297.0 135.7,297.0 135.7,297.5 135.7,303.7 137.6,303.7 137.6,312.9 140.1,312.9 140.1,324.4 143.4,324.4 143.4,339.1 145.8,339.1 149.1,339.1 149.1,340.7 149.1,354.5 152.4,354.5 152.4,356.0 152.4,367.5 157.3,367.5 157.3,382.3 161.4,382.3 161.4,386.4 163.8,386.4 164.6,386.4 164.6,392.9 167.1,392.9 167.1,395.4 167.1,397.8 169.5,397.8 169.5,406.0 172.0,406.0 173.6,406.0 173.6,415.8 175.3,415.8 175.3,423.2 180.0,423.2 183.3,423.2 183.3,424.0 186.5,424.0 187.4,424.0 187.4,410.9 189.8,410.9 189.8,424.0 196.4,424.0 217.6,424.0 218.4,424.0 218.4,414.2 219.3,414.2 219.3,424.0 220.9,424.0 220.9,413.3 222.2,413.3 222.2,411.7 222.9,411.7 222.9,424.0 224.2,424.0 224.2,414.2 225.8,414.2 225.8,424.8 227.4,424.8 227.4,419.1 229.1,419.1 229.1,424.0 232.4,424.0 232.7,412.5 234.8,412.5 234.8,422.3 236.4,422.3 236.4,412.5 238.9,412.5 239.7,412.5 239.7,410.9 243.8,410.9 245.4,410.9 245.4,410.1 252.0,410.1 252.0,409.3 256.9,409.3 256.9,408.4 258.5,408.4 258.5,396.2 260.0,396.2 263.3,396.2 266.5,396.2 266.5,397.0 268.2,397.0 268.2,410.1 270.6,410.1 271.5,410.1 271.5,396.2 276.4,396.2 278.0,396.2 278.0,397.8 280.5,397.8 281.3,397.8 281.3,406.8 282.9,406.8 282.9,407.6 283.7,407.6 283.7,397.8 284.5,397.8 284.5,399.4 285.4,399.4 285.4,410.1 287.8,410.1 288.6,410.1 288.6,408.4 290.3,408.4 290.3,410.1 291.1,410.1 291.1,397.8 294.4,397.8 296.0,397.8 296.0,397.0 299.3,397.0 299.3,396.2 300.1,396.2 300.1,409.3 302.5,409.3 303.4,409.3 303.4,396.2 305.8,396.2 306.6,396.2 306.6,401.1 308.3,401.1 308.3,396.2 309.9,396.2 309.9,397.0 310.7,397.0 310.7,409.3 313.2,409.3 313.7,409.3 313.7,397.0 316.4,397.0 316.4,396.2 322.2,396.2 325.4,396.2 325.4,397.0 328.7,397.0 328.7,396.2 333.6,396.2 333.6,397.0 336.9,397.0 336.9,396.2 340.0,396.2 341.6,396.2 341.6,397.0 343.3,397.0 343.3,396.2 344.9,396.2 344.9,397.0 346.5,397.0 346.5,396.2 347.4,396.2 347.4,383.9 351.5,383.9 351.5,391.3 353.1,391.3 353.1,392.1 353.9,392.1 353.9,383.9 356.4,383.9 356.4,384.7 358.0,384.7 358.0,382.3 360.4,382.3 361.3,382.3 361.3,397.8 362.1,397.8 362.1,383.1 362.9,383.1 362.9,397.8 363.7,397.8 363.7,382.3 366.2,382.3 367.0,382.3 367.0,397.8 367.8,397.8 367.8,382.3 369.4,382.3 369.4,394.5 371.1,394.5 371.1,395.4 372.7,395.4 372.7,397.0 379.3,397.0 385.8,397.0 389.1,397.0 389.1,396.2 392.4,396.2 392.4,397.0 395.6,397.0 395.6,396.2 398.9,396.2 398.9,397.0 402.2,397.0 402.2,396.2 405.4,396.2 405.4,397.0 406.3,397.0 406.3,385.5 407.9,385.5 408.7,385.5 408.7,396.2 412.5,396.2 412.5,382.3 416.5,382.3 417.4,382.3 417.4,383.1 422.3,383.1 422.3,382.3 423.1,382.3 423.1,383.1 424.7,383.1 424.7,368.4 426.4,368.4 426.4,367.5 436.2,367.5 436.2,356.1 438.6,356.1 438.6,354.5 441.1,354.5 441.1,352.8 442.7,352.8 442.7,352.0 442.7,340.7 456.6,340.7 457.4,340.7 457.4,327.6 459.1,327.6 459.1,337.4 461.5,337.4 462.4,337.4 462.4,340.7 464.0,340.7 465.6,340.7 465.6,344.0 467.3,344.0 468.1,344.0 468.1,348.9 469.7,348.9 469.7,341.5 470.5,341.5 470.9,341.5 470.9,347.3 473.0,347.3" fill="none" stroke="#f0c8a8" stroke-width="0.35" stroke-linejoin="miter"/>
<path d="M104.6,337.0C104.9,337.1 105.1,336.8 106.5,337.4C107.9,338.0 110.9,339.4 113.1,340.4C115.3,341.4 117.4,342.2 119.6,343.2C121.8,344.2 124.0,345.2 126.2,346.4C128.4,347.6 131.5,349.6 132.7,350.5C133.9,351.4 132.4,351.1 133.5,352.0C134.6,352.9 137.2,354.5 139.3,356.1C141.4,357.7 143.6,359.9 145.8,361.8C148.0,363.7 150.2,365.4 152.4,367.5C154.6,369.6 156.7,372.1 158.9,374.1C161.1,376.2 163.2,378.1 165.4,379.8C167.6,381.5 170.1,383.2 172.0,384.4C173.9,385.5 175.6,386.2 176.9,386.7C178.2,387.2 178.7,387.1 180.0,387.2C181.3,387.3 183.3,387.5 184.9,387.4C186.5,387.3 188.2,387.1 189.8,386.6C191.4,386.2 193.1,385.6 194.7,384.7C196.3,383.8 198.0,382.5 199.6,381.4C201.2,380.3 202.9,379.4 204.5,378.2C206.1,377.0 207.8,375.6 209.4,374.1C211.1,372.6 212.8,371.0 214.4,369.2C216.1,367.4 217.8,365.4 219.3,363.5C220.8,361.6 222.1,359.7 223.4,357.7C224.8,355.7 225.8,353.6 227.4,351.5C229.0,349.4 231.6,346.8 233.2,345.0C234.8,343.2 235.6,341.8 236.8,340.5C238.0,339.2 239.3,338.1 240.5,337.2C241.7,336.3 242.8,335.6 244.0,335.0C245.2,334.4 246.4,333.9 247.7,333.4C249.0,332.9 250.6,332.4 252.0,332.0C253.4,331.6 254.7,331.3 256.0,331.0C257.3,330.7 258.7,330.5 260.0,330.3C261.3,330.1 262.7,330.1 264.0,330.0C265.3,329.9 266.5,329.9 268.0,330.0C269.5,330.1 271.2,330.1 273.1,330.3C275.0,330.5 277.4,330.7 279.6,331.0C281.8,331.3 284.0,331.6 286.2,332.0C288.4,332.4 290.5,332.8 292.7,333.3C294.9,333.8 297.1,334.5 299.3,335.0C301.5,335.5 303.6,336.1 305.8,336.5C308.0,336.9 310.2,337.2 312.4,337.6C314.6,338.0 316.7,338.3 318.9,338.6C321.1,338.9 323.2,339.2 325.4,339.5C327.6,339.8 329.6,340.1 332.0,340.4C334.4,340.7 337.6,341.0 340.0,341.3C342.4,341.6 344.3,341.8 346.5,342.0C348.7,342.2 350.9,342.2 353.1,342.3C355.3,342.4 357.4,342.6 359.6,342.7C361.8,342.8 364.0,343.1 366.2,343.2C368.4,343.3 370.5,343.4 372.7,343.5C374.9,343.6 377.1,343.8 379.3,344.0C381.5,344.2 383.6,344.6 385.8,344.8C388.0,345.0 390.2,345.2 392.4,345.3C394.6,345.4 396.7,345.5 398.9,345.6C401.1,345.7 403.2,345.8 405.4,345.9C407.6,346.0 409.6,346.2 412.0,346.4C414.4,346.6 417.6,346.8 420.0,346.9C422.4,347.0 424.0,346.9 426.4,346.9C428.8,346.9 431.8,346.9 434.5,346.9C437.2,346.9 440.0,346.8 442.7,346.9C445.4,347.0 448.2,347.1 450.9,347.3C453.6,347.5 456.7,347.8 459.1,348.1C461.6,348.4 463.7,348.7 465.6,349.2C467.5,349.7 469.3,350.8 470.5,351.3C471.7,351.9 472.6,352.3 473.0,352.5" fill="none" stroke="#2a24c6" stroke-width="1.5" stroke-linejoin="round"/>
</g>
<line x1="104.3" x2="104.3" y1="273.9" y2="432.2" stroke="#8a7a60" stroke-width="0.6"/>
<line x1="473.3" x2="473.3" y1="273.9" y2="432.2" stroke="#8a7a60" stroke-width="0.6"/>
<line x1="104.3" x2="473.3" y1="432.2" y2="432.2" stroke="#888" stroke-width="0.8"/>
<text x="139.7" y="441.0" class="ax dt" text-anchor="middle" textLength="29.8" lengthAdjust="spacingAndGlyphs">08/12/2020</text>
<text x="200.1" y="441.0" class="ax dt" text-anchor="middle" textLength="29.8" lengthAdjust="spacingAndGlyphs">08/12/2020</text>
<text x="260.6" y="441.0" class="ax dt" text-anchor="middle" textLength="29.8" lengthAdjust="spacingAndGlyphs">08/12/2020</text>
<text x="321.3" y="441.0" class="ax dt" text-anchor="middle" textLength="29.8" lengthAdjust="spacingAndGlyphs">08/12/2020</text>
<text x="381.8" y="441.0" class="ax dt" text-anchor="middle" textLength="29.8" lengthAdjust="spacingAndGlyphs">08/12/2020</text>
<text x="442.6" y="441.0" class="ax dt" text-anchor="middle" textLength="29.8" lengthAdjust="spacingAndGlyphs">08/12/2020</text>
<text x="288.6" y="451.9" class="xt" text-anchor="middle">Date</text>
<text transform="translate(68.7,353.04999999999995) rotate(-90)" class="yt" text-anchor="middle" textLength="124.4" lengthAdjust="spacingAndGlyphs">Act. and Calc. Moving Greate P (mm H2O)</text>
<text transform="translate(512,353.04999999999995) rotate(-90)" class="yt" text-anchor="middle" textLength="84.7" lengthAdjust="spacingAndGlyphs" style="white-space:pre">Static Grate  Pressure (mbar)</text>
<text x="275.3" y="482.0" class="cap" text-anchor="middle">(b)</text>
</svg></body></html>
